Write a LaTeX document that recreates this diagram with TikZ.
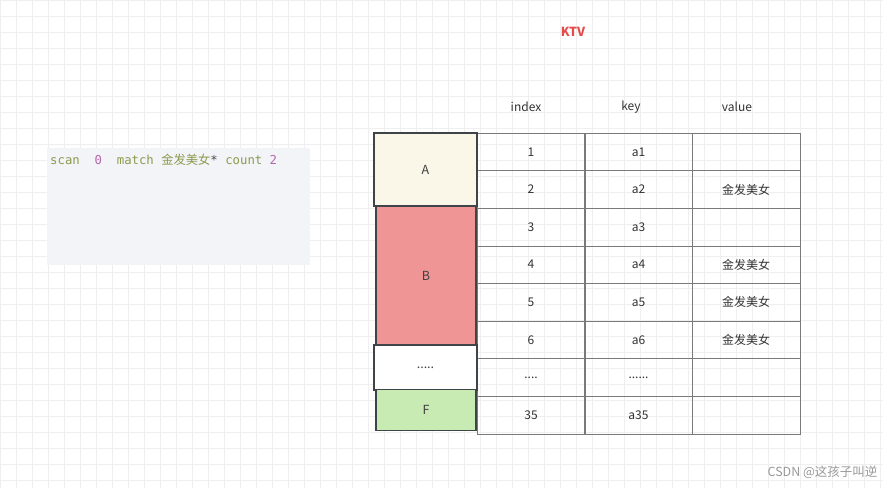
\documentclass[tikz,border=0pt]{standalone}
\usepackage{fontspec}
\setmainfont{Noto Sans CJK SC}
\newfontfamily\cjk{Noto Sans CJK SC}
\setmonofont{DejaVu Sans Mono}
\definecolor{olv}{HTML}{8A9B4E}
\definecolor{prp}{HTML}{B468A8}
\definecolor{cream}{HTML}{FAF7E8}
\definecolor{pinkb}{HTML}{F09595}
\definecolor{grnb}{HTML}{C8EBB4}
\definecolor{codebg}{HTML}{F3F4F8}
\definecolor{gridc}{HTML}{EFEFEF}
\definecolor{cellc}{HTML}{7A7A7A}
\definecolor{ttl}{HTML}{E64B4B}
\definecolor{boxc}{HTML}{3E4448}
\def\fourdots{....}
\def\sixdots{......}
\begin{document}
\begin{tikzpicture}[x=1pt,y=-1pt,
  cell/.style={draw=cellc,line width=0.6pt,minimum width=107pt,minimum height=37.6pt,inner sep=0pt,font=\fontsize{12}{14}\selectfont,text=black!80,anchor=center},
  colbox/.style={draw=boxc,line width=1.3pt,inner sep=0pt,font=\fontsize{12.5}{14}\selectfont,text=black!75},
  hdr/.style={font=\fontsize{12}{14}\selectfont,text=black!80}]
\useasboundingbox (0,0) rectangle (883,488);
\fill[white] (0,0) rectangle (883,488);
\foreach \i in {0,...,55} {\draw[gridc,line width=0.4pt] (\i*16,0) -- (\i*16,488);}
\foreach \j in {0,...,30} {\draw[gridc,line width=0.4pt] (0,\j*16) -- (883,\j*16);}
\node[font=\bfseries\fontsize{12.5}{14}\selectfont,text=ttl] (title) at (573,32) {KTV};
\node[fill=codebg,minimum width=263pt,minimum height=117pt,inner sep=0pt] (code) at (178.5,206.5) {};
\node[anchor=west,inner sep=0pt,font=\ttfamily\fontsize{12.3}{14}\selectfont] (codetext) at (50,160)
 {\textcolor{olv}{scan}\ \ \textcolor{prp}{0}\ \ \textcolor{olv}{match} \textcolor{olv}{\cjk 金发美女}\textcolor{black!70}{*} \textcolor{olv}{count} \textcolor{prp}{2}};
\node[hdr] (h1) at (526,107) {index};
\node[hdr] (h2) at (631,107) {key};
\node[hdr] (h3) at (737,107) {value};
\foreach \r/\a/\b [count=\k] in {1/a1/{},2/a2/金发美女,3/a3/{},4/a4/金发美女,5/a5/金发美女,6/a6/金发美女,\fourdots/\sixdots/{},35/a35/{}} {
  \node[cell] (i\k) at (531,133+\k*37.625-18.8) {\r};
  \node[cell] (k\k) at (638.5,133+\k*37.625-18.8) {\a};
  \node[cell,minimum width=108pt] (v\k) at (746,133+\k*37.625-18.8) {\b};
}
\node[colbox,fill=cream,minimum width=103pt,minimum height=73pt] (A) at (425.5,169.5) {A};
\node[colbox,fill=pinkb,minimum width=100pt,minimum height=139pt] (B) at (426,275.5) {B};
\node[colbox,fill=white,minimum width=103pt,minimum height=45pt] (D) at (425.5,367.5) {.....};
\node[colbox,fill=grnb,minimum width=100pt,minimum height=41pt] (F) at (426,410) {F};
\node[anchor=east,text=black!40,font=\fontsize{12.5}{14}\selectfont] (wm) at (881,472) {CSDN @这孩子叫逆};
\end{tikzpicture}
\end{document}
